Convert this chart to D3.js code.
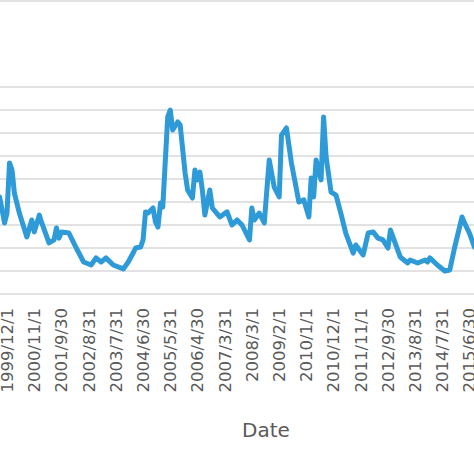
<!DOCTYPE html>
<html><head><meta charset="utf-8">
<script src="https://cdn.jsdelivr.net/npm/d3@7"></script>
<style>body{margin:0;background:#fff}svg{display:block}</style>
</head><body><svg id="c" width="474" height="474"></svg>
<script>
const dates = ["1999-09","1999-11","1999-12","2000-01","2000-02","2000-03","2000-05","2000-08","2000-10","2000-11",
"2001-01","2001-02","2001-05","2001-07","2001-08","2001-09","2001-10","2002-01","2002-04","2002-07",
"2002-10","2002-12","2003-02","2003-04","2003-07","2003-11","2004-01","2004-03","2004-04","2004-06",
"2004-07","2004-08","2004-09","2004-11","2004-12","2005-01","2005-02","2005-03","2005-05","2005-06",
"2005-07","2005-09","2005-10","2005-12","2006-01","2006-03","2006-04","2006-05","2006-06","2006-07",
"2006-08","2006-10","2006-11","2007-02","2007-05","2007-07","2007-09","2007-11","2008-02","2008-03",
"2008-04","2008-06","2008-08","2008-10","2008-12","2009-02","2009-03","2009-05","2009-07","2009-10",
"2009-12","2010-02","2010-03","2010-04","2010-05","2010-07","2010-08","2010-09","2010-11","2011-01",
"2011-03","2011-05","2011-08","2011-09","2011-12","2012-02","2012-04","2012-06","2012-08","2012-10",
"2012-11","2013-03","2013-06","2013-07","2013-10","2014-01","2014-02","2014-03","2014-06","2014-09",
"2014-11","2015-01","2015-04","2015-05","2015-07","2015-09"];
const values = [4.22,3.09,3.52,5.70,5.39,4.39,3.52,2.48,3.22,2.70,
3.43,3.09,2.22,2.35,2.87,2.43,2.70,2.65,2.00,1.39,
1.26,1.57,1.39,1.57,1.26,1.09,1.39,1.78,2.00,2.04,
2.35,3.57,3.52,3.74,3.13,2.91,3.96,3.78,7.70,8.00,
7.13,7.48,7.35,5.26,4.52,4.17,5.39,4.96,5.30,4.52,
3.43,4.52,3.74,3.35,3.57,3.00,3.22,3.00,2.35,3.74,
3.22,3.52,3.09,5.83,4.65,4.22,6.91,7.22,5.70,4.00,
4.09,3.35,5.04,4.22,5.83,4.96,7.70,5.96,4.43,4.30,
3.52,2.65,1.78,2.13,1.70,2.65,2.70,2.43,2.35,2.00,
2.78,1.61,1.35,1.48,1.35,1.48,1.39,1.57,1.26,1.00,
1.04,2.04,3.35,3.09,2.65,2.04];
const tickLabels = ["1999/12/1","2000/11/1","2001/9/30","2002/8/31","2003/7/31","2004/6/30","2005/5/31","2006/4/30","2007/3/31","2008/3/1","2009/2/1","2010/1/1","2010/12/1","2011/11/1","2012/9/30","2013/8/31","2014/7/31","2015/6/30"];
const gridValues = [0,1,2,3,4,5,6,7,8,9];

const svg = d3.select("#c");
const pm = d3.timeParse("%Y-%m"), pl = d3.timeParse("%Y/%m/%d");
const x = d3.scaleTime().domain([pm("1999-12"), pm("2015-06")]).range([7,467]);
const y = d3.scaleLinear().domain([0,9]).range([294,87]);

svg.append("line").attr("x1",0).attr("x2",474).attr("y1",1).attr("y2",1).attr("stroke","#d9d9d9").attr("stroke-width",1.5);
svg.append("g").selectAll("line").data(gridValues).join("line")
  .attr("x1",0).attr("x2",474).attr("y1",d=>y(d)).attr("y2",d=>y(d))
  .attr("stroke","#d9d9d9").attr("stroke-width",1.5);

const pts = dates.map((d,i)=>[pm(d), values[i]]).filter(p=>p[1]!==undefined);
svg.append("path").datum(pts)
  .attr("d", d3.line().x(d=>x(d[0])).y(d=>y(d[1])))
  .attr("fill","none").attr("stroke","#2e9ad8").attr("stroke-width",5)
  .attr("stroke-linejoin","round").attr("stroke-linecap","round");

svg.append("g").selectAll("text").data(tickLabels).join("text")
  .attr("transform", d=>`translate(${x(pl(d))+6},308) rotate(-90)`)
  .attr("text-anchor","end")
  .attr("font-family","DejaVu Sans").attr("font-size",16.5).attr("fill","#595959")
  .text(d=>d);

svg.append("text").attr("x",266).attr("y",437).attr("text-anchor","middle")
  .attr("font-family","DejaVu Sans").attr("font-size",20).attr("fill","#595959").text("Date");
</script></body></html>
